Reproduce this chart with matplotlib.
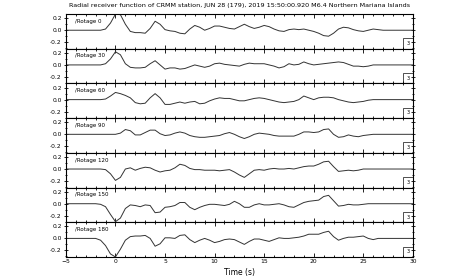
import numpy as np
import matplotlib
matplotlib.use("Agg")
import matplotlib.pyplot as plt
from matplotlib.patches import Rectangle

title = ("Radial receiver function of CRMM station, JUN 28 (179), 2019 "
         "15:50:00.920 M6.4 Northern Mariana Islands")
angles = [0, 30, 60, 90, 120, 150, 180]

# samples every 0.5 s from -5 s to 30 s (71 values per trace)
times = np.arange(-5, 30.01, 0.5)

rf_0 = [0, 0, 0, 0, 0, 0, 0, 0,
        0.02, 0.12, 0.27, 0.26, 0.10, -0.02, -0.04, -0.04, -0.05, 0.03,
        0.15, 0.10, 0.01, -0.01, -0.02, -0.05, -0.06, 0.02, 0.08, 0.05,
        0.0, 0.03, 0.07, 0.07, 0.05, 0.03, 0.02, 0.06, 0.10, 0.06,
        0.03, 0.05, 0.08, 0.06, 0.02, -0.01, -0.02, 0.01, 0.02, 0.01,
        0.02, 0.0, -0.02, -0.05, -0.09, -0.10, -0.05, 0.02, 0.05, 0.04,
        0.01, -0.01, -0.02, 0.0, 0.02, 0.01,
        0, 0, 0, 0, 0, 0, 0]
rf_30 = [0, 0, 0, 0, 0, 0, 0, 0,
         0.02, 0.10, 0.22, 0.17, 0.02, -0.04, -0.05, -0.05, -0.04, 0.02,
         0.07, 0.0, -0.07, -0.05, -0.05, -0.07, -0.06, -0.03, 0.0, -0.02,
         -0.04, -0.02, 0.02, 0.03, 0.01, 0.0, -0.01, -0.02, 0.01, 0.03,
         0.02, 0.02, 0.02, 0.0, -0.02, -0.05, -0.03, 0.02, 0.0, 0.01,
         0.05, 0.02, 0.0, 0.01, 0.02, 0.03, 0.04, 0.05, 0.04, 0.01,
         -0.02, -0.02, -0.03, -0.02, 0.0, 0.0,
         0, 0, 0, 0, 0, 0, 0]
rf_60 = [0, 0, 0, 0, 0, 0, 0, 0,
         0.01, 0.06, 0.12, 0.10, 0.07, 0.03, -0.05, -0.07, -0.06, 0.03,
         0.10, 0.03, -0.08, -0.08, -0.06, -0.04, -0.06, -0.04, -0.03, -0.07,
         -0.06, -0.02, 0.01, 0.03, 0.02, 0.02, 0.0, -0.02, -0.02, 0.0,
         0.02, 0.03, 0.02, 0.0, -0.02, -0.04, -0.05, -0.04, -0.03, 0.0,
         0.06, 0.03, 0.0, 0.03, 0.04, 0.04, 0.03, 0.0, -0.02, -0.04,
         -0.05, -0.04, -0.03, -0.01, 0.0, 0.0,
         0, 0, 0, 0, 0, 0, 0]
rf_90 = [0, 0, 0, 0, 0, 0, 0, 0,
         0.0, 0.0, 0.0, 0.02, 0.08, 0.06, -0.01, -0.01, 0.03, 0.07,
         0.07, 0.01, -0.02, -0.01, 0.02, 0.04, 0.02, -0.02, -0.04, -0.05,
         -0.05, -0.04, -0.03, -0.02, 0.01, 0.03, 0.0, -0.04, -0.07, -0.04,
         0.0, 0.02, 0.01, 0.0, -0.02, -0.03, -0.03, -0.03, -0.03, 0.0,
         0.04, 0.04, 0.03, 0.04, 0.08, 0.09, 0.0, -0.05, -0.04, -0.01,
         -0.03, -0.04, -0.02, -0.01, 0.0, 0.0,
         0, 0, 0, 0, 0, 0, 0]
rf_120 = [0, 0, 0, 0, 0, 0, 0, 0,
          -0.01, -0.08, -0.19, -0.14, 0.0, 0.02, -0.02, 0.01, 0.03, 0.02,
          -0.02, -0.05, -0.03, -0.02, 0.02, 0.08, 0.06, 0.01, -0.01, -0.01,
          -0.02, -0.02, -0.02, -0.03, -0.02, -0.01, -0.05, -0.10, -0.14, -0.08,
          -0.02, -0.01, -0.02, 0.0, 0.01, 0.0, 0.0, 0.01, 0.0, 0.02,
          0.04, 0.05, 0.05, 0.08, 0.12, 0.13, 0.04, -0.04, -0.03, -0.02,
          -0.03, -0.02, 0.0, 0.0, 0.0, 0.0,
          0, 0, 0, 0, 0, 0, 0]
rf_150 = [0, 0, 0, 0, 0, 0, 0, -0.01,
          -0.05, -0.18, -0.30, -0.24, -0.08, -0.02, -0.03, -0.05, -0.02, -0.03,
          -0.15, -0.14, -0.06, -0.05, -0.03, 0.02, 0.02, -0.06, -0.10, -0.06,
          -0.03, -0.01, -0.01, -0.02, -0.03, -0.01, 0.04, 0.0, -0.06, -0.06,
          -0.02, 0.0, -0.02, -0.02, -0.01, 0.0, -0.02, -0.05, -0.06, -0.02,
          0.02, 0.04, 0.05, 0.06, 0.12, 0.14, 0.05, -0.04, -0.03, -0.01,
          -0.02, -0.02, -0.01, 0.0, 0.0, 0.0,
          0, 0, 0, 0, 0, 0, 0]
rf_180 = [0, 0, 0, 0, 0, 0, 0, -0.03,
          -0.12, -0.26, -0.31, -0.18, -0.03, 0.03, 0.04, 0.04, 0.05, 0.0,
          -0.13, -0.09, 0.01, 0.01, 0.0, 0.05, 0.06, -0.02, -0.07, -0.03,
          0.0, -0.03, -0.07, -0.05, -0.02, -0.01, -0.02, -0.06, -0.10, -0.05,
          -0.01, -0.01, -0.03, -0.05, -0.02, 0.01, 0.0, 0.0, 0.01, 0.02,
          0.04, 0.07, 0.07, 0.07, 0.10, 0.12, 0.03, -0.03, 0.0, 0.02,
          0.02, 0.03, 0.04, 0.0, -0.02, 0.0,
          0, 0, 0, 0, 0, 0, 0]

traces = [rf_0, rf_30, rf_60, rf_90, rf_120, rf_150, rf_180]
for tr in traces:
    assert len(tr) == len(times), len(tr)

fig = plt.figure(figsize=(4.74, 2.76), dpi=100)
gs = fig.add_gridspec(len(traces), 1, left=0.139, right=0.871,
                      top=0.949, bottom=0.069, hspace=0)

narrow = ["Liberation Sans Narrow", "DejaVu Sans"]

for i, (ang, tr) in enumerate(zip(angles, traces)):
    ax = fig.add_subplot(gs[i])
    ax.plot(times, tr, color="#333333", lw=0.7)
    ax.set_xlim(-5, 30)
    ax.set_ylim(-0.31, 0.27)
    ax.set_xticks(np.arange(-5, 31, 5))
    ax.set_xticks(np.arange(-5, 31, 1), minor=True)
    ax.set_yticks([-0.2, 0.0, 0.2])
    ax.set_yticks([-0.3, -0.1, 0.1], minor=True)
    ax.set_yticklabels(["-0.2", "0.0", "0.2"], family=narrow, fontsize=4.3)
    ax.tick_params(axis="x", which="both", direction="in", top=True,
                   labelbottom=(i == len(traces) - 1), labelsize=4.3,
                   width=0.6, pad=1.5)
    ax.tick_params(axis="x", which="major", length=3)
    ax.tick_params(axis="x", which="minor", length=1.5)
    ax.tick_params(axis="y", which="both", direction="inout", right=True,
                   width=0.6, pad=1.5)
    ax.tick_params(axis="y", which="major", length=3)
    ax.tick_params(axis="y", which="minor", length=1.5)
    for lab in ax.get_xticklabels():
        lab.set_family(narrow)
    for sp in ax.spines.values():
        sp.set_linewidth(0.8)
    ax.text(-4.1, 0.15, "/Rotage %d" % ang, fontsize=4.0, family=narrow,
            va="center", ha="left")
    ax.add_patch(Rectangle((0.972, 0.0), 0.028, 0.30, transform=ax.transAxes,
                           fill=False, lw=0.6, edgecolor="#333333"))
    ax.text(0.986, 0.15, "3", transform=ax.transAxes, fontsize=3.5,
            ha="center", va="center", family=narrow)
    if i == len(traces) - 1:
        ax.set_xlabel("Time (s)", fontsize=5.5, family=narrow, labelpad=3)

fig.suptitle(title, fontsize=4.6, family=narrow, x=0.505, y=0.99, va="top")

fig.savefig("out.png", dpi=100)
